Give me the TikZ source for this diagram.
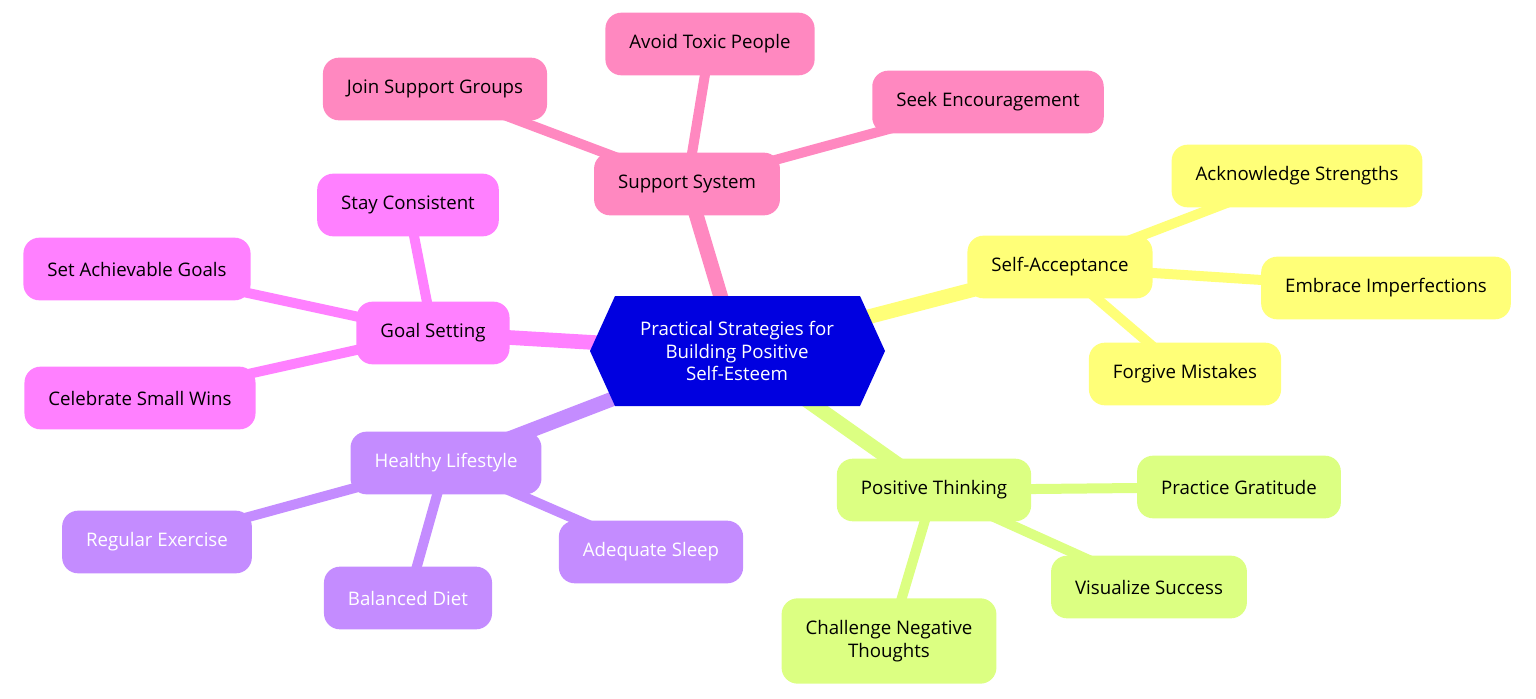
\documentclass[tikz,border=0pt]{standalone}
\usepackage{fontspec}
\setmainfont{Open Sans}
\usetikzlibrary{backgrounds}
\definecolor{supp}{RGB}{255,136,192}
\definecolor{selfa}{RGB}{255,255,120}
\definecolor{posit}{RGB}{220,255,130}
\definecolor{healt}{RGB}{196,140,255}
\definecolor{goal}{RGB}{255,128,255}
\definecolor{rootc}{RGB}{0,0,224}
\tikzset{
  topic/.style={rounded corners=12pt, minimum height=47pt, inner xsep=18pt,
    font=\fontsize{14}{17}\selectfont, align=center},
  main/.style={line width=11pt},
  leaf/.style={line width=7.5pt},
}
\begin{document}
\begin{tikzpicture}[x=0.75pt,y=-0.75pt]
\useasboundingbox (0,0) rectangle (1536,699);
\fill[rootc] (590,351) -- (615,296) -- (860,296) -- (885,351) -- (860,406) -- (615,406) -- cycle;
\node[font=\fontsize{14}{17}\selectfont, align=center, text=white] (R) at (737,351) {Practical Strategies for\\Building Positive\\Self-Esteem};
% support system
\node[topic, fill=supp] (S) at (687,184) {Support System};
\node[topic, fill=supp] (S1) at (435,89) {Join Support Groups};
\node[topic, fill=supp] (S2) at (710,44) {Avoid Toxic People};
\node[topic, fill=supp] (S3) at (988,102) {Seek Encouragement};
% self-acceptance
\node[topic, fill=selfa] (A) at (1060,267) {Self-Acceptance};
\node[topic, fill=selfa] (A1) at (1297,176) {Acknowledge Strengths};
\node[topic, fill=selfa] (A2) at (1386,288) {Embrace Imperfections};
\node[topic, fill=selfa] (A3) at (1185,374) {Forgive Mistakes};
% positive thinking
\node[topic, fill=posit] (P) at (934,490) {Positive Thinking};
\node[topic, fill=posit] (P1) at (1239,487) {Practice Gratitude};
\node[topic, fill=posit] (P2) at (1149,587) {Visualize Success};
\node[topic, fill=posit, minimum height=64pt] (P3) at (889,641) {Challenge Negative\\Thoughts};
% healthy lifestyle
\node[topic, fill=healt, text=white] (H) at (446,463) {Healthy Lifestyle};
\node[topic, fill=healt, text=white] (H1) at (157,542) {Regular Exercise};
\node[topic, fill=healt, text=white] (H2) at (408,598) {Balanced Diet};
\node[topic, fill=healt, text=white] (H3) at (651,552) {Adequate Sleep};
% goal setting
\node[topic, fill=goal] (G) at (433,333) {Goal Setting};
\node[topic, fill=goal] (G1) at (408,205) {Stay Consistent};
\node[topic, fill=goal] (G2) at (137,269) {Set Achievable Goals};
\node[topic, fill=goal] (G3) at (140,398) {Celebrate Small Wins};
\begin{scope}[on background layer]
\draw[main, supp] (R.center) -- (S.center);
\draw[main, selfa] (R.center) -- (A.center);
\draw[main, posit] (R.center) -- (P.center);
\draw[main, healt] (R.center) -- (H.center);
\draw[main, goal] (R.center) -- (G.center);
\foreach \n in {S1,S2,S3} \draw[leaf, supp] (S.center) -- (\n.center);
\foreach \n in {A1,A2,A3} \draw[leaf, selfa] (A.center) -- (\n.center);
\foreach \n in {P1,P2,P3} \draw[leaf, posit] (P.center) -- (\n.center);
\foreach \n in {H1,H2,H3} \draw[leaf, healt] (H.center) -- (\n.center);
\foreach \n in {G1,G2,G3} \draw[leaf, goal] (G.center) -- (\n.center);
\end{scope}
\end{tikzpicture}
\end{document}
